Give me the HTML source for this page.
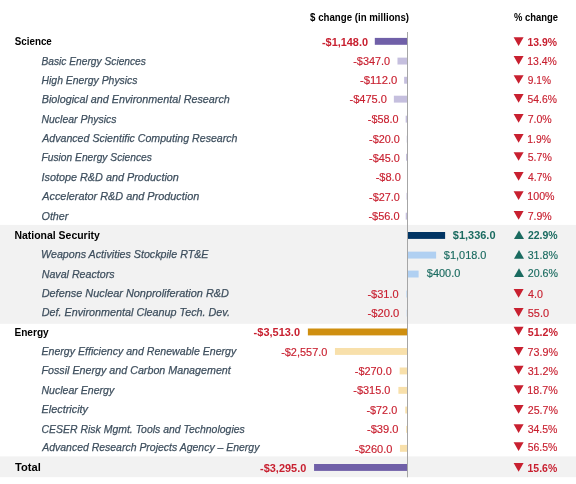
<!DOCTYPE html><html><head><meta charset="utf-8"><style>html,body{margin:0;padding:0;background:#fff;width:576px;height:484px;overflow:hidden}svg{display:block;will-change:transform}text{font-family:"Liberation Sans",sans-serif}</style></head><body>
<svg width="576" height="484" viewBox="0 0 576 484">
<rect x="0" y="224.9" width="576" height="98.9" fill="#f2f2f2"/>
<rect x="0" y="456.4" width="576" height="20.8" fill="#f2f2f2"/>
<rect x="374.81" y="37.90" width="32.49" height="6.90" fill="#7060a8"/>
<rect x="397.48" y="57.62" width="9.82" height="6.90" fill="#c5bfde"/>
<rect x="404.13" y="76.80" width="3.17" height="6.90" fill="#c5bfde"/>
<rect x="393.86" y="95.70" width="13.44" height="6.90" fill="#c5bfde"/>
<rect x="405.66" y="115.70" width="1.64" height="6.90" fill="#c5bfde"/>
<rect x="406.73" y="135.70" width="0.57" height="6.90" fill="#c5bfde"/>
<rect x="406.03" y="153.80" width="1.27" height="6.90" fill="#c5bfde"/>
<rect x="407.07" y="173.60" width="0.23" height="6.90" fill="#c5bfde"/>
<rect x="406.54" y="192.85" width="0.76" height="6.90" fill="#c5bfde"/>
<rect x="405.72" y="212.70" width="1.58" height="6.90" fill="#c5bfde"/>
<rect x="407.30" y="232.00" width="37.81" height="6.90" fill="#003463"/>
<rect x="407.30" y="251.65" width="28.81" height="6.90" fill="#b0d0f2"/>
<rect x="407.30" y="270.60" width="11.32" height="6.90" fill="#b0d0f2"/>
<rect x="406.42" y="290.60" width="0.88" height="6.90" fill="#b0d0f2"/>
<rect x="406.73" y="309.70" width="0.57" height="6.90" fill="#b0d0f2"/>
<rect x="307.88" y="328.50" width="99.42" height="6.90" fill="#cf8f10"/>
<rect x="334.94" y="348.00" width="72.36" height="6.90" fill="#f8e0ab"/>
<rect x="399.66" y="367.50" width="7.64" height="6.90" fill="#f8e0ab"/>
<rect x="398.39" y="386.90" width="8.91" height="6.90" fill="#f8e0ab"/>
<rect x="405.26" y="406.60" width="2.04" height="6.90" fill="#f8e0ab"/>
<rect x="406.20" y="425.90" width="1.10" height="6.90" fill="#f8e0ab"/>
<rect x="399.94" y="444.90" width="7.36" height="6.90" fill="#f8e0ab"/>
<rect x="314.05" y="464.00" width="93.25" height="6.90" fill="#7060a8"/>
<rect x="407" y="32" width="1" height="445.3" fill="#a6a6a6"/>
<polygon points="513.60,37.30 523.60,37.30 518.60,46.00" fill="#c82030"/>
<polygon points="513.60,55.97 523.60,55.97 518.60,64.67" fill="#c82030"/>
<polygon points="513.60,75.15 523.60,75.15 518.60,83.85" fill="#c82030"/>
<polygon points="513.60,94.05 523.60,94.05 518.60,102.75" fill="#c82030"/>
<polygon points="513.60,114.05 523.60,114.05 518.60,122.75" fill="#c82030"/>
<polygon points="513.60,134.05 523.60,134.05 518.60,142.75" fill="#c82030"/>
<polygon points="513.60,152.15 523.60,152.15 518.60,160.85" fill="#c82030"/>
<polygon points="513.60,171.95 523.60,171.95 518.60,180.65" fill="#c82030"/>
<polygon points="513.60,191.20 523.60,191.20 518.60,199.90" fill="#c82030"/>
<polygon points="513.60,211.05 523.60,211.05 518.60,219.75" fill="#c82030"/>
<polygon points="514.00,239.05 524.00,239.05 519.00,230.45" fill="#1a6b60"/>
<polygon points="514.00,258.70 524.00,258.70 519.00,250.10" fill="#1a6b60"/>
<polygon points="514.00,276.95 524.00,276.95 519.00,268.35" fill="#1a6b60"/>
<polygon points="513.60,288.95 523.60,288.95 518.60,297.65" fill="#c82030"/>
<polygon points="513.60,308.05 523.60,308.05 518.60,316.75" fill="#c82030"/>
<polygon points="513.60,326.85 523.60,326.85 518.60,335.55" fill="#c82030"/>
<polygon points="513.60,347.05 523.60,347.05 518.60,355.75" fill="#c82030"/>
<polygon points="513.60,365.85 523.60,365.85 518.60,374.55" fill="#c82030"/>
<polygon points="513.60,385.25 523.60,385.25 518.60,393.95" fill="#c82030"/>
<polygon points="513.60,404.95 523.60,404.95 518.60,413.65" fill="#c82030"/>
<polygon points="513.60,424.25 523.60,424.25 518.60,432.95" fill="#c82030"/>
<polygon points="513.60,442.25 523.60,442.25 518.60,450.95" fill="#c82030"/>
<polygon points="513.60,463.05 523.60,463.05 518.60,471.75" fill="#c82030"/>
<text x="310.12" y="20.90" font-size="10.9" font-weight="bold" font-style="normal" fill="#000000" textLength="98.95" lengthAdjust="spacingAndGlyphs">$ change (in millions)</text>
<text x="514.02" y="20.90" font-size="10.9" font-weight="bold" font-style="normal" fill="#000000" textLength="44.11" lengthAdjust="spacingAndGlyphs">% change</text>
<text x="14.74" y="44.75" font-size="10.9" font-weight="bold" font-style="normal" fill="#000000" textLength="37.07" lengthAdjust="spacingAndGlyphs">Science</text>
<text x="321.96" y="46.05" font-size="10.9" font-weight="bold" font-style="normal" fill="#c82030" textLength="46.06" lengthAdjust="spacingAndGlyphs">-$1,148.0</text>
<text x="527.55" y="46.05" font-size="10.9" font-weight="bold" font-style="normal" fill="#c82030" textLength="29.51" lengthAdjust="spacingAndGlyphs">13.9%</text>
<text x="41.51" y="64.82" font-size="11.4" font-weight="normal" font-style="italic" fill="#3e4f5e" stroke="#3e4f5e" stroke-width="0.25" textLength="104.40" lengthAdjust="spacingAndGlyphs">Basic Energy Sciences</text>
<text x="353.21" y="64.72" font-size="10.9" font-weight="normal" font-style="normal" fill="#c82030" stroke="#c82030" stroke-width="0.15" textLength="36.94" lengthAdjust="spacingAndGlyphs">-$347.0</text>
<text x="527.32" y="64.72" font-size="10.9" font-weight="normal" font-style="normal" fill="#c82030" stroke="#c82030" stroke-width="0.15" textLength="29.52" lengthAdjust="spacingAndGlyphs">13.4%</text>
<text x="41.53" y="84.00" font-size="11.4" font-weight="normal" font-style="italic" fill="#3e4f5e" stroke="#3e4f5e" stroke-width="0.25" textLength="95.99" lengthAdjust="spacingAndGlyphs">High Energy Physics</text>
<text x="360.02" y="83.90" font-size="10.9" font-weight="normal" font-style="normal" fill="#c82030" stroke="#c82030" stroke-width="0.15" textLength="37.31" lengthAdjust="spacingAndGlyphs">-$112.0</text>
<text x="527.85" y="83.90" font-size="10.9" font-weight="normal" font-style="normal" fill="#c82030" stroke="#c82030" stroke-width="0.15" textLength="23.16" lengthAdjust="spacingAndGlyphs">9.1%</text>
<text x="41.71" y="102.90" font-size="11.4" font-weight="normal" font-style="italic" fill="#3e4f5e" stroke="#3e4f5e" stroke-width="0.25" textLength="188.09" lengthAdjust="spacingAndGlyphs">Biological and Environmental Research</text>
<text x="349.52" y="102.80" font-size="10.9" font-weight="normal" font-style="normal" fill="#c82030" stroke="#c82030" stroke-width="0.15" textLength="37.43" lengthAdjust="spacingAndGlyphs">-$475.0</text>
<text x="527.59" y="102.80" font-size="10.9" font-weight="normal" font-style="normal" fill="#c82030" stroke="#c82030" stroke-width="0.15" textLength="29.28" lengthAdjust="spacingAndGlyphs">54.6%</text>
<text x="41.51" y="122.60" font-size="11.4" font-weight="normal" font-style="italic" fill="#3e4f5e" stroke="#3e4f5e" stroke-width="0.25" textLength="74.94" lengthAdjust="spacingAndGlyphs">Nuclear Physics</text>
<text x="367.84" y="122.80" font-size="10.9" font-weight="normal" font-style="normal" fill="#c82030" stroke="#c82030" stroke-width="0.15" textLength="30.71" lengthAdjust="spacingAndGlyphs">-$58.0</text>
<text x="527.66" y="122.80" font-size="10.9" font-weight="normal" font-style="normal" fill="#c82030" stroke="#c82030" stroke-width="0.15" textLength="24.13" lengthAdjust="spacingAndGlyphs">7.0%</text>
<text x="42.23" y="141.90" font-size="11.4" font-weight="normal" font-style="italic" fill="#3e4f5e" stroke="#3e4f5e" stroke-width="0.25" textLength="195.29" lengthAdjust="spacingAndGlyphs">Advanced Scientific Computing Research</text>
<text x="369.12" y="142.80" font-size="10.9" font-weight="normal" font-style="normal" fill="#c82030" stroke="#c82030" stroke-width="0.15" textLength="30.78" lengthAdjust="spacingAndGlyphs">-$20.0</text>
<text x="527.33" y="142.80" font-size="10.9" font-weight="normal" font-style="normal" fill="#c82030" stroke="#c82030" stroke-width="0.15" textLength="23.70" lengthAdjust="spacingAndGlyphs">1.9%</text>
<text x="41.53" y="161.00" font-size="11.4" font-weight="normal" font-style="italic" fill="#3e4f5e" stroke="#3e4f5e" stroke-width="0.25" textLength="110.33" lengthAdjust="spacingAndGlyphs">Fusion Energy Sciences</text>
<text x="369.04" y="161.90" font-size="10.9" font-weight="normal" font-style="normal" fill="#c82030" stroke="#c82030" stroke-width="0.15" textLength="30.86" lengthAdjust="spacingAndGlyphs">-$45.0</text>
<text x="527.71" y="160.90" font-size="10.9" font-weight="normal" font-style="normal" fill="#c82030" stroke="#c82030" stroke-width="0.15" textLength="24.08" lengthAdjust="spacingAndGlyphs">5.7%</text>
<text x="41.47" y="180.80" font-size="11.4" font-weight="normal" font-style="italic" fill="#3e4f5e" stroke="#3e4f5e" stroke-width="0.25" textLength="137.39" lengthAdjust="spacingAndGlyphs">Isotope R&amp;D and Production</text>
<text x="375.67" y="180.70" font-size="10.9" font-weight="normal" font-style="normal" fill="#c82030" stroke="#c82030" stroke-width="0.15" textLength="25.15" lengthAdjust="spacingAndGlyphs">-$8.0</text>
<text x="528.06" y="180.70" font-size="10.9" font-weight="normal" font-style="normal" fill="#c82030" stroke="#c82030" stroke-width="0.15" textLength="23.55" lengthAdjust="spacingAndGlyphs">4.7%</text>
<text x="42.25" y="200.05" font-size="11.4" font-weight="normal" font-style="italic" fill="#3e4f5e" stroke="#3e4f5e" stroke-width="0.25" textLength="156.99" lengthAdjust="spacingAndGlyphs">Accelerator R&amp;D and Production</text>
<text x="369.12" y="200.85" font-size="10.9" font-weight="normal" font-style="normal" fill="#c82030" stroke="#c82030" stroke-width="0.15" textLength="30.78" lengthAdjust="spacingAndGlyphs">-$27.0</text>
<text x="527.37" y="199.95" font-size="10.9" font-weight="normal" font-style="normal" fill="#c82030" stroke="#c82030" stroke-width="0.15" textLength="27.21" lengthAdjust="spacingAndGlyphs">100%</text>
<text x="41.50" y="219.90" font-size="11.4" font-weight="normal" font-style="italic" fill="#3e4f5e" stroke="#3e4f5e" stroke-width="0.25" textLength="26.96" lengthAdjust="spacingAndGlyphs">Other</text>
<text x="368.42" y="219.80" font-size="10.9" font-weight="normal" font-style="normal" fill="#c82030" stroke="#c82030" stroke-width="0.15" textLength="31.13" lengthAdjust="spacingAndGlyphs">-$56.0</text>
<text x="527.66" y="219.80" font-size="10.9" font-weight="normal" font-style="normal" fill="#c82030" stroke="#c82030" stroke-width="0.15" textLength="24.13" lengthAdjust="spacingAndGlyphs">7.9%</text>
<text x="14.45" y="239.10" font-size="10.9" font-weight="bold" font-style="normal" fill="#000000" textLength="85.44" lengthAdjust="spacingAndGlyphs">National Security</text>
<text x="452.83" y="239.10" font-size="10.9" font-weight="bold" font-style="normal" fill="#1a6b60" textLength="42.70" lengthAdjust="spacingAndGlyphs">$1,336.0</text>
<text x="527.89" y="239.10" font-size="10.9" font-weight="bold" font-style="normal" fill="#1a6b60" textLength="29.82" lengthAdjust="spacingAndGlyphs">22.9%</text>
<text x="41.05" y="257.95" font-size="11.4" font-weight="normal" font-style="italic" fill="#3e4f5e" stroke="#3e4f5e" stroke-width="0.25" textLength="167.43" lengthAdjust="spacingAndGlyphs">Weapons Activities Stockpile RT&amp;E</text>
<text x="443.86" y="258.75" font-size="10.9" font-weight="normal" font-style="normal" fill="#1a6b60" stroke="#1a6b60" stroke-width="0.15" textLength="42.61" lengthAdjust="spacingAndGlyphs">$1,018.0</text>
<text x="527.65" y="258.75" font-size="10.9" font-weight="normal" font-style="normal" fill="#1a6b60" stroke="#1a6b60" stroke-width="0.15" textLength="30.27" lengthAdjust="spacingAndGlyphs">31.8%</text>
<text x="41.73" y="277.60" font-size="11.4" font-weight="normal" font-style="italic" fill="#3e4f5e" stroke="#3e4f5e" stroke-width="0.25" textLength="72.80" lengthAdjust="spacingAndGlyphs">Naval Reactors</text>
<text x="426.80" y="277.00" font-size="10.9" font-weight="normal" font-style="normal" fill="#1a6b60" stroke="#1a6b60" stroke-width="0.15" textLength="33.46" lengthAdjust="spacingAndGlyphs">$400.0</text>
<text x="527.79" y="277.00" font-size="10.9" font-weight="normal" font-style="normal" fill="#1a6b60" stroke="#1a6b60" stroke-width="0.15" textLength="30.23" lengthAdjust="spacingAndGlyphs">20.6%</text>
<text x="41.69" y="296.70" font-size="11.4" font-weight="normal" font-style="italic" fill="#3e4f5e" stroke="#3e4f5e" stroke-width="0.25" textLength="187.26" lengthAdjust="spacingAndGlyphs">Defense Nuclear Nonproliferation R&amp;D</text>
<text x="367.41" y="297.70" font-size="10.9" font-weight="normal" font-style="normal" fill="#c82030" stroke="#c82030" stroke-width="0.15" textLength="31.18" lengthAdjust="spacingAndGlyphs">-$31.0</text>
<text x="528.07" y="297.70" font-size="10.9" font-weight="normal" font-style="normal" fill="#c82030" stroke="#c82030" stroke-width="0.15" textLength="14.86" lengthAdjust="spacingAndGlyphs">4.0</text>
<text x="41.71" y="316.00" font-size="11.4" font-weight="normal" font-style="italic" fill="#3e4f5e" stroke="#3e4f5e" stroke-width="0.25" textLength="188.19" lengthAdjust="spacingAndGlyphs">Def. Environmental Cleanup Tech. Dev.</text>
<text x="367.44" y="316.80" font-size="10.9" font-weight="normal" font-style="normal" fill="#c82030" stroke="#c82030" stroke-width="0.15" textLength="31.88" lengthAdjust="spacingAndGlyphs">-$20.0</text>
<text x="527.68" y="316.80" font-size="10.9" font-weight="normal" font-style="normal" fill="#c82030" stroke="#c82030" stroke-width="0.15" textLength="21.37" lengthAdjust="spacingAndGlyphs">55.0</text>
<text x="14.40" y="335.60" font-size="10.9" font-weight="bold" font-style="normal" fill="#000000" textLength="34.34" lengthAdjust="spacingAndGlyphs">Energy</text>
<text x="253.63" y="335.60" font-size="10.9" font-weight="bold" font-style="normal" fill="#c82030" textLength="46.38" lengthAdjust="spacingAndGlyphs">-$3,513.0</text>
<text x="527.70" y="335.60" font-size="10.9" font-weight="bold" font-style="normal" fill="#c82030" textLength="30.29" lengthAdjust="spacingAndGlyphs">51.2%</text>
<text x="41.53" y="354.70" font-size="11.4" font-weight="normal" font-style="italic" fill="#3e4f5e" stroke="#3e4f5e" stroke-width="0.25" textLength="194.73" lengthAdjust="spacingAndGlyphs">Energy Efficiency and Renewable Energy</text>
<text x="281.16" y="355.80" font-size="10.9" font-weight="normal" font-style="normal" fill="#c82030" stroke="#c82030" stroke-width="0.15" textLength="46.17" lengthAdjust="spacingAndGlyphs">-$2,557.0</text>
<text x="527.56" y="355.80" font-size="10.9" font-weight="normal" font-style="normal" fill="#c82030" stroke="#c82030" stroke-width="0.15" textLength="30.37" lengthAdjust="spacingAndGlyphs">73.9%</text>
<text x="41.49" y="373.50" font-size="11.4" font-weight="normal" font-style="italic" fill="#3e4f5e" stroke="#3e4f5e" stroke-width="0.25" textLength="189.30" lengthAdjust="spacingAndGlyphs">Fossil Energy and Carbon Management</text>
<text x="354.84" y="374.60" font-size="10.9" font-weight="normal" font-style="normal" fill="#c82030" stroke="#c82030" stroke-width="0.15" textLength="36.93" lengthAdjust="spacingAndGlyphs">-$270.0</text>
<text x="527.63" y="374.60" font-size="10.9" font-weight="normal" font-style="normal" fill="#c82030" stroke="#c82030" stroke-width="0.15" textLength="30.40" lengthAdjust="spacingAndGlyphs">31.2%</text>
<text x="41.51" y="394.10" font-size="11.4" font-weight="normal" font-style="italic" fill="#3e4f5e" stroke="#3e4f5e" stroke-width="0.25" textLength="72.77" lengthAdjust="spacingAndGlyphs">Nuclear Energy</text>
<text x="353.35" y="394.00" font-size="10.9" font-weight="normal" font-style="normal" fill="#c82030" stroke="#c82030" stroke-width="0.15" textLength="36.99" lengthAdjust="spacingAndGlyphs">-$315.0</text>
<text x="527.31" y="394.00" font-size="10.9" font-weight="normal" font-style="normal" fill="#c82030" stroke="#c82030" stroke-width="0.15" textLength="30.50" lengthAdjust="spacingAndGlyphs">18.7%</text>
<text x="41.52" y="412.70" font-size="11.4" font-weight="normal" font-style="italic" fill="#3e4f5e" stroke="#3e4f5e" stroke-width="0.25" textLength="46.52" lengthAdjust="spacingAndGlyphs">Electricity</text>
<text x="366.47" y="413.70" font-size="10.9" font-weight="normal" font-style="normal" fill="#c82030" stroke="#c82030" stroke-width="0.15" textLength="30.70" lengthAdjust="spacingAndGlyphs">-$72.0</text>
<text x="527.76" y="413.70" font-size="10.9" font-weight="normal" font-style="normal" fill="#c82030" stroke="#c82030" stroke-width="0.15" textLength="30.26" lengthAdjust="spacingAndGlyphs">25.7%</text>
<text x="41.52" y="432.80" font-size="11.4" font-weight="normal" font-style="italic" fill="#3e4f5e" stroke="#3e4f5e" stroke-width="0.25" textLength="203.26" lengthAdjust="spacingAndGlyphs">CESER Risk Mgmt. Tools and Technologies</text>
<text x="367.02" y="433.00" font-size="10.9" font-weight="normal" font-style="normal" fill="#c82030" stroke="#c82030" stroke-width="0.15" textLength="31.45" lengthAdjust="spacingAndGlyphs">-$39.0</text>
<text x="527.64" y="433.00" font-size="10.9" font-weight="normal" font-style="normal" fill="#c82030" stroke="#c82030" stroke-width="0.15" textLength="29.83" lengthAdjust="spacingAndGlyphs">34.5%</text>
<text x="42.22" y="451.10" font-size="11.4" font-weight="normal" font-style="italic" fill="#3e4f5e" stroke="#3e4f5e" stroke-width="0.25" textLength="217.20" lengthAdjust="spacingAndGlyphs">Advanced Research Projects Agency – Energy</text>
<text x="354.97" y="452.50" font-size="10.9" font-weight="normal" font-style="normal" fill="#c82030" stroke="#c82030" stroke-width="0.15" textLength="37.43" lengthAdjust="spacingAndGlyphs">-$260.0</text>
<text x="527.68" y="451.00" font-size="10.9" font-weight="normal" font-style="normal" fill="#c82030" stroke="#c82030" stroke-width="0.15" textLength="29.71" lengthAdjust="spacingAndGlyphs">56.5%</text>
<text x="15.13" y="470.90" font-size="10.9" font-weight="bold" font-style="normal" fill="#000000" textLength="25.69" lengthAdjust="spacingAndGlyphs">Total</text>
<text x="260.05" y="471.80" font-size="10.9" font-weight="bold" font-style="normal" fill="#c82030" textLength="46.23" lengthAdjust="spacingAndGlyphs">-$3,295.0</text>
<text x="527.53" y="471.80" font-size="10.9" font-weight="bold" font-style="normal" fill="#c82030" textLength="29.75" lengthAdjust="spacingAndGlyphs">15.6%</text>
</svg></body></html>
